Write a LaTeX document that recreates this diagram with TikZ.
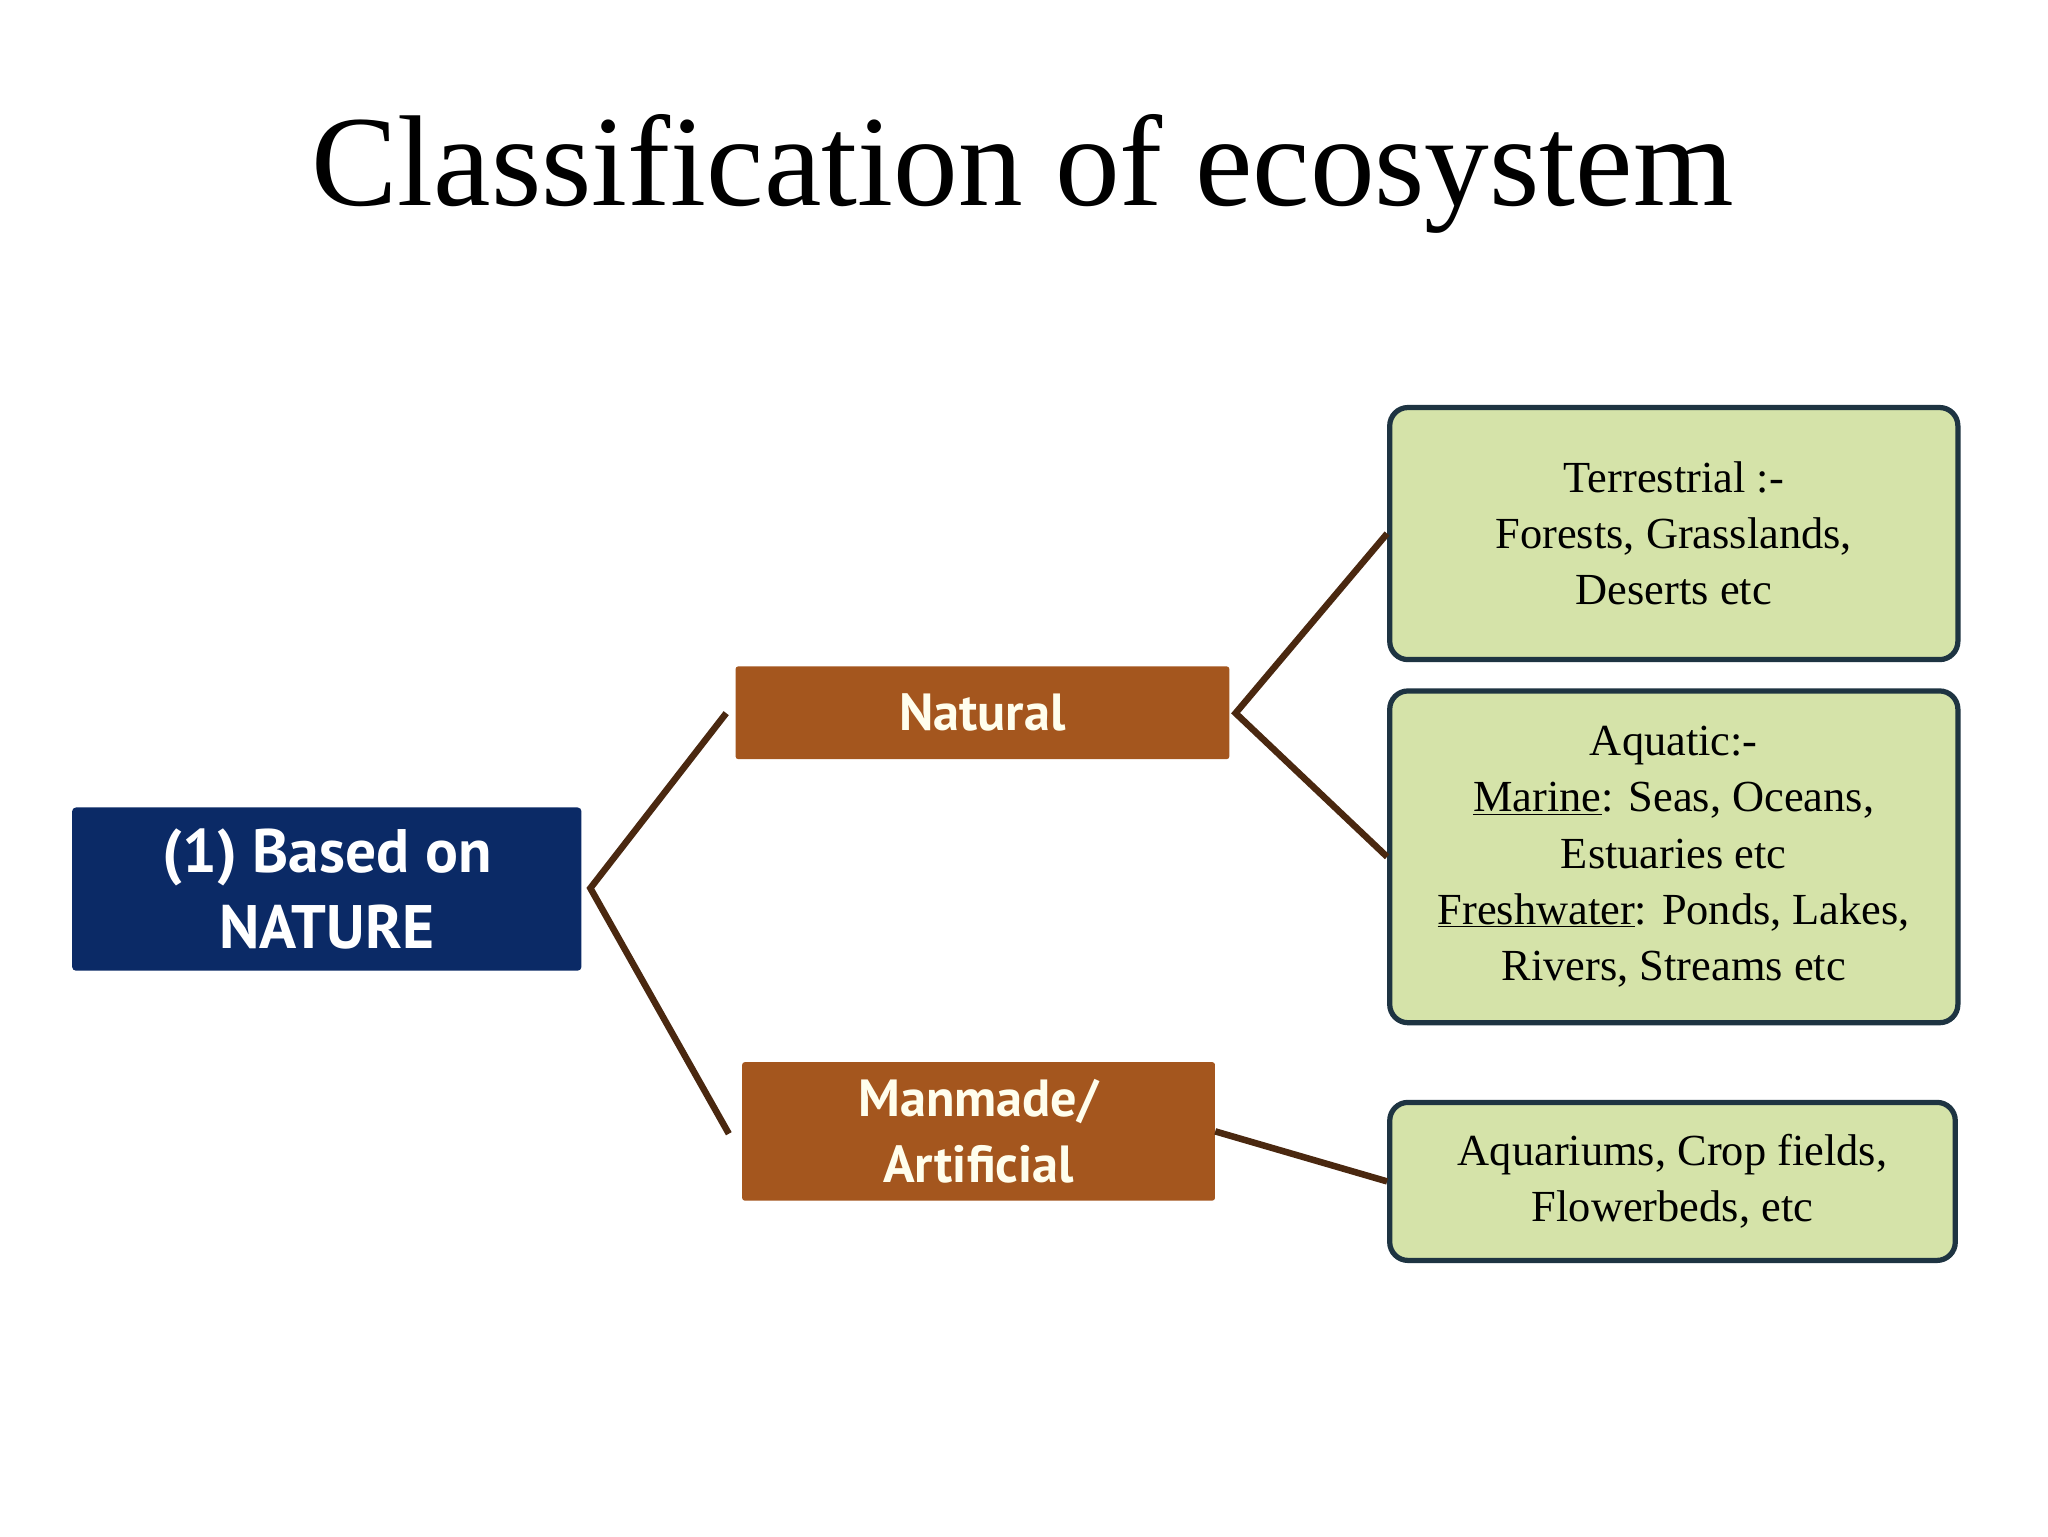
\documentclass[tikz,border=0pt]{standalone}
\usepackage{fontspec}
\setmainfont{Liberation Serif}
\newfontfamily\boxsans{PT Sans}
\definecolor{navy}{HTML}{0B2A66}
\definecolor{brownbox}{HTML}{A4561E}
\definecolor{greenbox}{HTML}{D5E3A9}
\definecolor{greenedge}{HTML}{1E3442}
\definecolor{conn}{HTML}{4A2810}
\begin{document}
\begin{tikzpicture}[x=1pt,y=-1pt,
  bluebox/.style={draw=none,fill=navy,rounded corners=3pt,text=white,font=\boxsans\bfseries\fontsize{47}{58}\selectfont,align=center,minimum width=390pt,minimum height=125pt,anchor=north west,inner sep=0pt},
  brbox/.style={draw=none,fill=brownbox,rounded corners=2pt,text=white!93!yellow,font=\boxsans\bfseries\fontsize{40}{50}\selectfont,align=center,anchor=north west,inner sep=0pt},
  grbox/.style={draw=greenedge,line width=4pt,fill=greenbox,rounded corners=14pt,font=\fontsize{34}{43}\selectfont,align=center,anchor=north west,inner sep=0pt},
  link/.style={conn,line width=5pt}]
\useasboundingbox (0,0) rectangle (1568,1176);
\fill[white] (0,0) rectangle (1568,1176);
\node[font=\fontsize{99}{108}\selectfont] (title) at (783,133) {Classification of ecosystem};
\node[bluebox] (root) at (55,618) {(1) Based on\\NATURE};
\node[brbox,minimum width=378pt,minimum height=71pt] (nat) at (563,510) {Natural};
\node[brbox,minimum width=362pt,minimum height=106pt] (man) at (568,813) {Manmade/\\Artificial};
\node[grbox,minimum width=435pt,minimum height=193pt] (ter) at (1062,310) {Terrestrial :-\\Forests, Grasslands,\\Deserts etc};
\node[grbox,minimum width=435pt,minimum height=254pt] (aq) at (1062,527) {Aquatic:-\\\underline{Marine}: Seas, Oceans,\\Estuaries etc\\\underline{Freshwater}: Ponds, Lakes,\\Rivers, Streams etc};
\node[grbox,minimum width=433pt,minimum height=121pt] (art) at (1062,842) {Aquariums, Crop fields,\\Flowerbeds, etc};
\coordinate (r0) at (452,680);
\coordinate (n0) at (946,546);
\draw[link] (556,546) -- (r0) -- (558,868);
\draw[link] (ter.west) -- (n0) -- (aq.west);
\draw[link] (man.east) -- (art.west);
\end{tikzpicture}
\end{document}
